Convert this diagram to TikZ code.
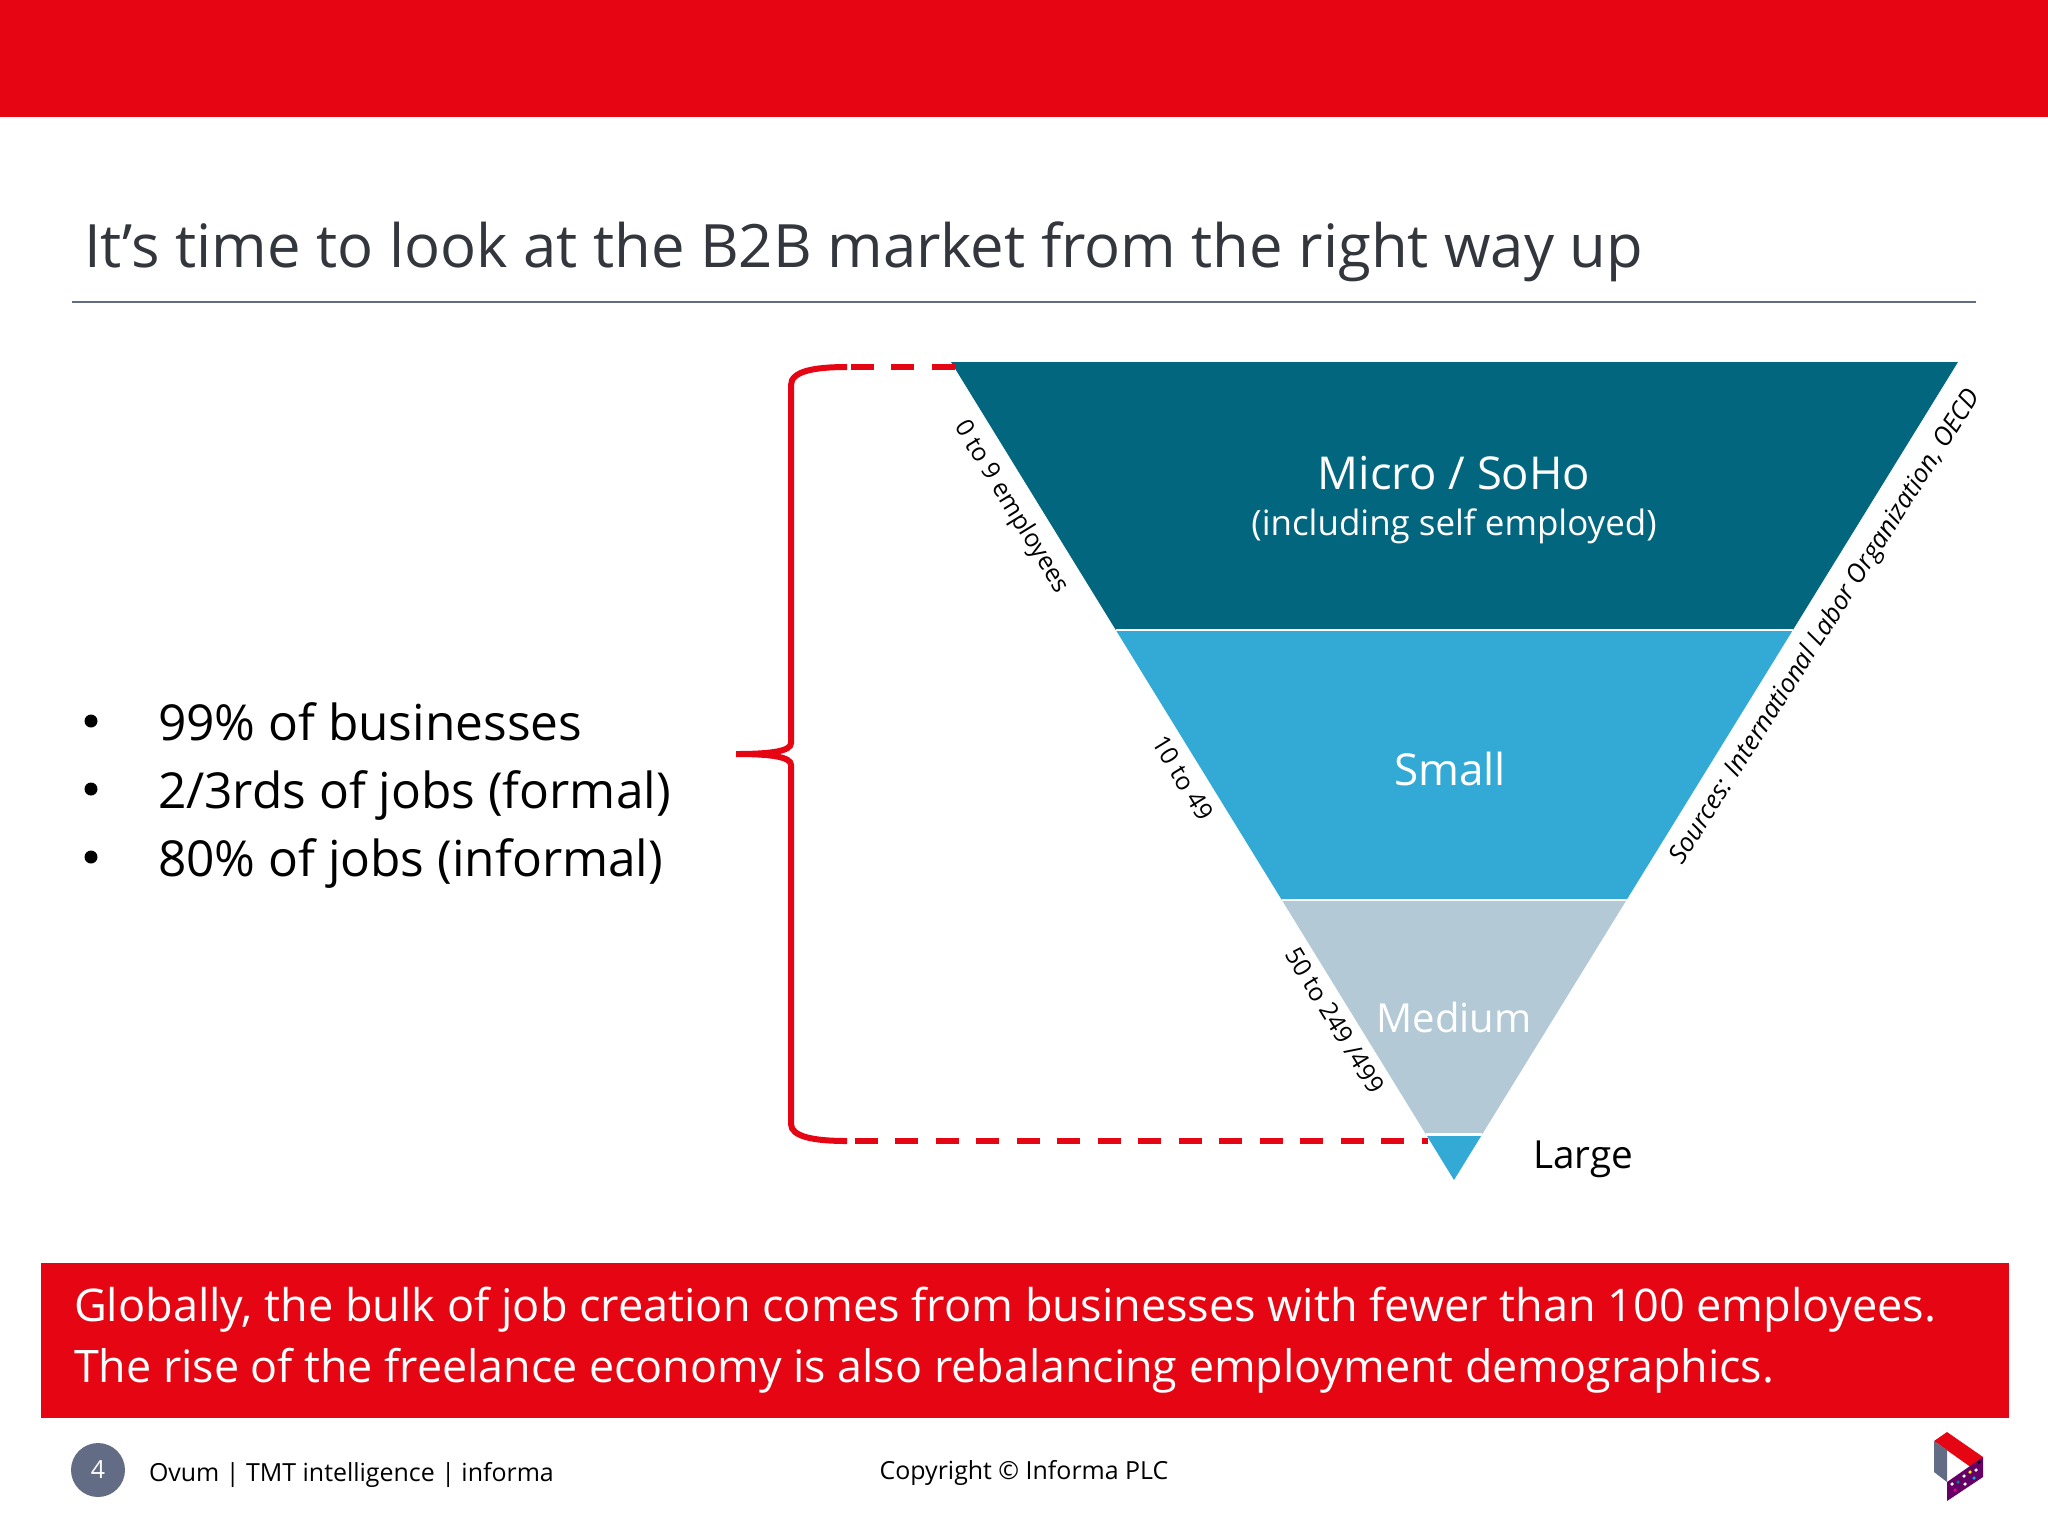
\documentclass[tikz,border=0pt]{standalone}
\usepackage{fontspec}
\setmainfont{Open Sans}
\usetikzlibrary{calc, positioning}
\definecolor{brandred}{HTML}{E60512}
\definecolor{microcolor}{HTML}{03667F}
\definecolor{smallcolor}{HTML}{33AAD6}
\definecolor{mediumcolor}{HTML}{B3CAD6}
\definecolor{slatecolor}{HTML}{626C84}
\definecolor{titlecolor}{HTML}{33373D}
\def\bandgap{2.2pt}
\def\bracewidth{4.5pt}
\tikzset{
	% labels
	text_label/.style={
		inner sep=0,
		outer sep=0,
		text=black,
	},
	title_label/.style={
		text_label,
		anchor=base west,
		text=titlecolor,
		font=\fontsize{44.85}{54}\selectfont,
	},
	bullet_label/.style={
		text_label,
		anchor=base west,
		font=\fontsize{37.2}{44}\selectfont,
	},
	banner_label/.style={
		text_label,
		anchor=base west,
		text=white,
		font=\fontsize{33.8}{42}\selectfont,
	},
	footer_label/.style={
		text_label,
		font=\fontsize{18.7}{24}\selectfont,
	},
	edge_label/.style={
		text_label,
		font=\fontsize{18.6}{24}\selectfont,
	},
	band_label/.style={
		text_label,
		text=white,
		font=\fontsize{34}{40}\selectfont,
	},
	% funnel
	band/.style={
		draw=white,
		line width=\bandgap,
	},
	% bracket
	bracket/.style={
		draw=brandred,
		line width=\bracewidth,
	},
	bracket_dash/.style={
		bracket,
		dash pattern=on 17.25pt off 13.1pt,
	},
}

\begin{document}
\begin{tikzpicture}[x=0.75pt, y=-0.75pt]
	\useasboundingbox (0,0) rectangle (2048,1536);

	% Top band
	\fill[brandred] (0,0) rectangle (2048,117);

	% Title
	\node[title_label] (title) at (84,267) {It’s time to look at the B2B market from the right way up};
	\draw[slatecolor, line width=1.1pt] (72,302) -- (1976,302);

	% Funnel
	\coordinate (top_left) at (951,362);
	\coordinate (top_right) at (1958,362);
	\coordinate (apex) at (1454,1180);
	\coordinate (micro_l) at ($(top_left)!0.3276!(apex)$);
	\coordinate (micro_r) at ($(top_right)!0.3276!(apex)$);
	\coordinate (small_l) at ($(top_left)!0.6577!(apex)$);
	\coordinate (small_r) at ($(top_right)!0.6577!(apex)$);
	\coordinate (medium_l) at ($(top_left)!0.9438!(apex)$);
	\coordinate (medium_r) at ($(top_right)!0.9438!(apex)$);
	\fill[microcolor] (top_left) -- (top_right) -- (micro_r) -- (micro_l) -- cycle;
	\fill[smallcolor] (micro_l) -- (micro_r) -- (small_r) -- (small_l) -- cycle;
	\fill[mediumcolor] (small_l) -- (small_r) -- (medium_r) -- (medium_l) -- cycle;
	\fill[smallcolor] (medium_l) -- (medium_r) -- (apex) -- cycle;
	%% Gaps
	\draw[band] (micro_l) -- (micro_r);
	\draw[band] (small_l) -- (small_r);
	\draw[band] (medium_l) -- (medium_r);

	% Funnel labels
	\node[band_label] (micro) at (1454,473) {Micro / SoHo};
	\node[band_label, font=\fontsize{26.2}{32}\selectfont] (micro_note) at (1454,526) {(including self employed)};
	\node[band_label, font=\fontsize{33}{40}\selectfont] (small) at (1450,769) {Small};
	\node[band_label, font=\fontsize{30}{36}\selectfont] (medium) at (1454,1017) {Medium};
	\node[text_label, font=\fontsize{29}{34}\selectfont] (large) at (1583,1159) {Large};

	% Edge labels
	\node[edge_label, rotate=-58.4] (edge_micro) at (1011,507) {0 to 9 employees};
	\node[edge_label, rotate=-58.4] (edge_small) at (1183,778) {10 to 49};
	\node[edge_label, rotate=-58.4] (edge_medium) at (1335,1020) {50 to 249 /499};
	\node[edge_label, font=\fontsize{19.3}{24}\selectfont, rotate=57.6] (sources) at (1826,627) {\itshape Sources: International Labor Organization, OECD};

	% Bracket
	\coordinate (brace_top) at (847,367);
	\coordinate (brace_bottom) at (847,1141);
	\coordinate (brace_tip) at (736,754);
	\coordinate (dash_top) at (851,367);
	\coordinate (dash_bottom) at (855,1141);
	\draw[bracket] (brace_top) .. controls (815,367) and (791,371) .. (791,385)
		-- (791,743) .. controls (791,751) and (772,754) .. (brace_tip)
		.. controls (772,754) and (791,757) .. (791,765)
		-- (791,1124) .. controls (791,1137) and (815,1141) .. (brace_bottom);
	\draw[bracket_dash] (dash_top) -- +(105,0);
	\draw[bracket_dash] (dash_bottom) -- +(573,0);

	% Bullets
	\foreach \i/\y/\txt in {1/740/99\% of businesses, 2/808/{2/3rds of jobs (formal)}, 3/876/80\% of jobs (informal)} {
		\node[bullet_label] (point\i) at (158,\y) {\txt};
		\fill (91,\y-19) circle (6.5);
	}

	% Banner
	\fill[brandred] (41,1263) rectangle (2009,1418);
	\node[banner_label] (banner_one) at (74,1321) {Globally, the bulk of job creation comes from businesses with fewer than 100 employees.};
	\node[banner_label, font=\fontsize{33.6}{42}\selectfont] (banner_two) at (74,1382) {The rise of the freelance economy is also rebalancing employment demographics.};

	% Footer
	\node[
		circle,
		fill=slatecolor,
		text=white,
		minimum size=40.5pt,
		inner sep=0,
		font=\fontsize{18.7}{24}\selectfont,
	] (page) at (98,1470) {4};
	\node[footer_label, anchor=west] (footer) at (149,1475) {Ovum | TMT intelligence | informa};
	\node[footer_label] (copyright) at (1024,1473) {Copyright © Informa PLC};

	% Logo
	\fill[brandred] (1934,1441) -- (1947,1432) -- (1983,1457) -- (1972,1468) -- cycle;
	\fill[slatecolor] (1934,1441) -- (1947,1450) -- (1947,1482) -- (1934,1472) -- cycle;
	\fill[violet!80!black] (1947,1482) -- (1983,1457) -- (1983,1477) -- (1947,1501) -- cycle;
	\foreach \x/\y/\c in {1952/1484/white, 1958/1482/teal, 1964/1476/white, 1970/1472/yellow, 1976/1470/white, 1979/1462/black, 1955/1490/magenta, 1965/1484/white, 1974/1478/cyan} {
		\fill[\c] (\x,\y) circle (1.8);
	}
\end{tikzpicture}
\end{document}
